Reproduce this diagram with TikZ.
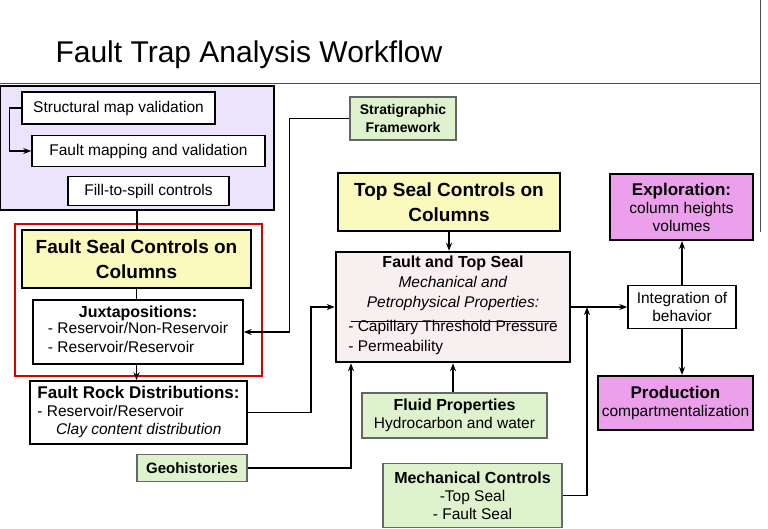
\documentclass[tikz,border=0pt]{standalone}
\usepackage{fontspec}
\setmainfont{Liberation Sans}
\usetikzlibrary{arrows.meta}
\definecolor{lav}{RGB}{236,228,250}
\definecolor{grn}{RGB}{222,242,206}
\definecolor{yel}{RGB}{250,250,190}
\definecolor{pnk}{RGB}{236,160,236}
\definecolor{rose}{RGB}{248,240,240}
\tikzset{
  box/.style = {draw, line width=1.5pt, fill=white, align=center, inner sep=1pt,
                font=\fontsize{15.5}{18}\selectfont},
  grnbox/.style = {box, draw=black!60, fill=grn},
  yelbox/.style = {box, line width=2pt, fill=yel, font=\fontsize{19}{25}\selectfont\bfseries},
  pnkbox/.style = {box, line width=2pt, fill=pnk},
  arr/.style = {line width=1.5pt, -{Stealth[length=8pt]}},
  ln/.style = {line width=1.5pt}
}

\begin{document}
\begin{tikzpicture}[x=1pt,y=-1pt]
	\useasboundingbox (0,0) rectangle (768,528);

	% Frame
	\draw[black!70, line width=1pt] (0,83) -- (760,83);
	\draw[black!70, line width=1pt] (760,0) -- (760,232);

	% Title
	\node[anchor=west, font=\fontsize{30}{32}\selectfont] (title) at (52,55) {Fault Trap Analysis Workflow};

	% Left column
	\node[box, line width=2.5pt, fill=lav, minimum width=274, minimum height=124] (mapping) at (137,148) {};
	\node[box, minimum width=193, minimum height=32] (struct) at (118.5,108) {Structural map validation};
	\node[box, minimum width=233, minimum height=31] (faultmap) at (148.5,151) {Fault mapping and validation};
	\node[box, minimum width=161, minimum height=29] (spill) at (148.5,191) {Fill-to-spill controls};
	\draw[red!85!black, line width=2.5pt] (15,224) rectangle (262,376);
	\node[yelbox, minimum width=229, minimum height=58] (fscol) at (136.5,259) {Fault Seal Controls on\\Columns};
	\node[box, minimum width=210, minimum height=64, font=\fontsize{15.5}{19}\selectfont] (juxta) at (138,332)
		{\textbf{\fontsize{16}{19}\selectfont Juxtapositions:}\\[-2pt]\begin{tabular}{@{}l@{}}- Reservoir/Non-Reservoir\\- Reservoir/Reservoir\end{tabular}};
	\node[box, minimum width=217, minimum height=63, font=\fontsize{15.5}{18}\selectfont] (rock) at (138.5,412.5)
		{\begin{tabular}{@{}l@{}}\textbf{\fontsize{17}{19}\selectfont Fault Rock Distributions:}\\- Reservoir/Reservoir\\\hspace{1.2em}\textit{Clay content distribution}\end{tabular}};
	\node[grnbox, minimum width=110, minimum height=27, font=\fontsize{15}{17}\selectfont\bfseries] (geo) at (192,468) {Geohistories};

	% Middle column
	\node[grnbox, minimum width=106, minimum height=43, font=\fontsize{14}{18}\selectfont\bfseries] (strat) at (403,118.5) {Stratigraphic\\Framework};
	\node[yelbox, minimum width=222, minimum height=58] (topseal) at (449,202) {Top Seal Controls on\\Columns};
	\node[box, line width=2.5pt, fill=rose, minimum width=234, minimum height=110, font=\fontsize{15.5}{20}\selectfont] (fts) at (453,307)
		{\textbf{\fontsize{16}{20}\selectfont Fault and Top Seal}\\\textit{Mechanical and}\\\textit{Petrophysical Properties:}\\[-6pt]\rule{205pt}{0.8pt}\\[-5pt]
		 \begin{tabular}{@{}l@{}}- Capillary Threshold Pressure\\- Permeability\end{tabular}};
	\node[grnbox, minimum width=185, minimum height=45] (fluid) at (454.5,415.5)
		{\textbf{\fontsize{16}{18}\selectfont Fluid Properties}\\Hydrocarbon and water};
	\node[grnbox, minimum width=179, minimum height=64] (mech) at (472.5,495.5)
		{\textbf{\fontsize{16}{18}\selectfont Mechanical Controls}\\-Top Seal\\- Fault Seal};

	% Right column
	\node[pnkbox, minimum width=143, minimum height=66] (explo) at (681.5,207)
		{\textbf{\fontsize{17}{19}\selectfont Exploration:}\\column heights\\volumes};
	\node[box, minimum width=108, minimum height=43] (integ) at (682,307) {Integration of\\behavior};
	\node[pnkbox, minimum width=155, minimum height=54] (prod) at (675.5,403)
		{\textbf{\fontsize{17}{19}\selectfont Production}\\compartmentalization};

	% Connectors
	\draw[ln] (mapping.south) -- (fscol.north -| mapping.south);
	\draw[ln] (fscol.south) -- (juxta.north -| fscol.south);
	\draw[arr] (juxta.south -| fscol.south) -- (rock.north -| fscol.south);
	\draw[arr] (struct.west) -- ++(-12,0) |- (faultmap.west);
	\draw[arr] (strat.west) -- ++(-60,0) |- (juxta.east);
	\draw[arr] (rock.east) -- ++(63,0) |- (fts.west);
	\draw[arr] (geo.east) -| (fts.south -| 351,0);
	\draw[arr] (topseal.south) -- (fts.north -| topseal.south);
	\draw[arr] (fluid.north -| 453,0) -- (fts.south -| 453,0);
	\draw[arr] (fts.east) -- (integ.west);
	\draw[arr] (mech.east) -| (587,307);
	\draw[arr] (integ.north) -- (explo.south -| integ.north);
	\draw[arr] (integ.south) -- (prod.north -| integ.south);
\end{tikzpicture}
\end{document}
